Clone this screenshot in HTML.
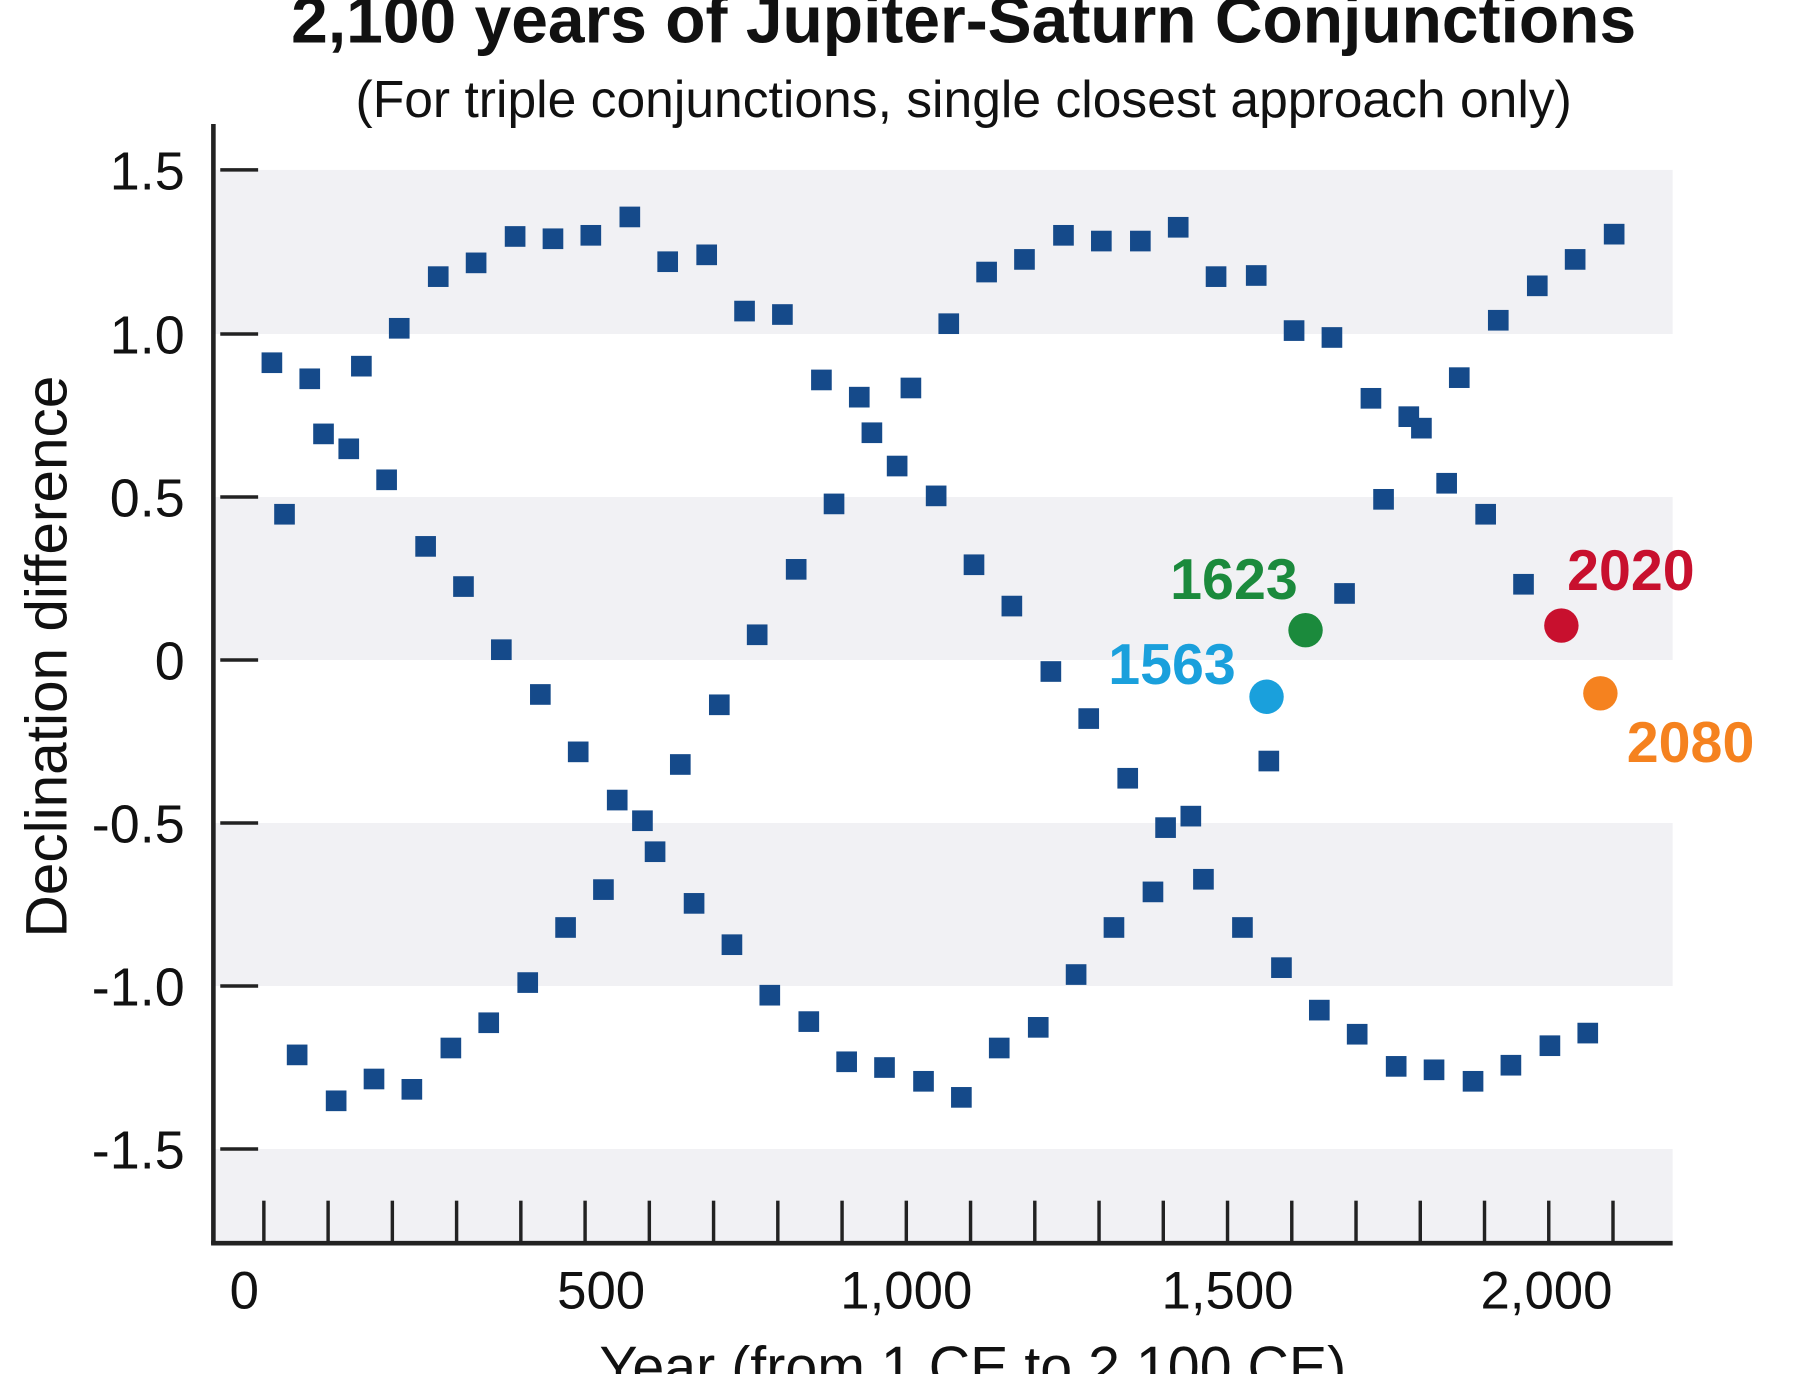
<!DOCTYPE html>
<html><head><meta charset="utf-8"><style>html,body{margin:0;padding:0;background:#fff}svg{display:block}</style></head>
<body>
<svg width="1800" height="1374" viewBox="0 0 1569 1197" preserveAspectRatio="none" xmlns="http://www.w3.org/2000/svg" font-family="Liberation Sans, Arial, sans-serif">
<rect x="0" y="0" width="1569" height="1197" fill="#fff"/>
<g fill="#f1f1f4">
<rect x="185" y="148" width="1273" height="143"/>
<rect x="185" y="433" width="1273" height="142"/>
<rect x="185" y="717" width="1273" height="142"/>
<rect x="185" y="1001" width="1273" height="82"/>
</g>
<text x="840" y="37" font-size="57.5" font-weight="bold" text-anchor="middle" fill="#111">2,100 years of Jupiter-Saturn Conjunctions</text>
<text x="840" y="102" font-size="45" text-anchor="middle" fill="#111">(For triple conjunctions, single closest approach only)</text>
<g stroke="#222" stroke-width="3">
<line x1="192" y1="148" x2="225" y2="148"/><line x1="192" y1="291" x2="225" y2="291"/><line x1="192" y1="433" x2="225" y2="433"/><line x1="192" y1="575" x2="225" y2="575"/><line x1="192" y1="717" x2="225" y2="717"/><line x1="192" y1="859" x2="225" y2="859"/><line x1="192" y1="1001" x2="225" y2="1001"/>
</g>
<g stroke="#222" stroke-width="3" id="xt"></g>
<line x1="186" y1="108" x2="186" y2="1084" stroke="#222" stroke-width="4"/>
<line x1="184" y1="1083" x2="1458" y2="1083" stroke="#222" stroke-width="4"/>
<g font-size="47" fill="#111" text-anchor="end">
<text x="161" y="165">1.5</text><text x="161" y="308">1.0</text><text x="161" y="450">0.5</text><text x="161" y="592">0</text><text x="161" y="734">-0.5</text><text x="161" y="876">-1.0</text><text x="161" y="1018">-1.5</text>
</g>
<g font-size="46" fill="#111" text-anchor="middle">
<text x="213" y="1140">0</text><text x="524" y="1140">500</text><text x="790" y="1140">1,000</text><text x="1070" y="1140">1,500</text><text x="1348" y="1140">2,000</text>
<text x="848" y="1208" font-size="50">Year (from 1 CE to 2,100 CE)</text>
</g>
<text transform="translate(58,572) rotate(-90)" font-size="51" fill="#111" text-anchor="middle">Declination difference</text>
<g id="pts" fill="#154a8a"></g>
<circle cx="1104" cy="607" r="15" fill="#1aa0dc"/>
<circle cx="1138" cy="549" r="15" fill="#1b8a3c"/>
<circle cx="1361" cy="545" r="15" fill="#c8102e"/>
<circle cx="1395" cy="604" r="15" fill="#f5821f"/>
<g font-size="50" font-weight="bold">
<text x="1020" y="522" fill="#1b8a3c">1623</text>
<text x="966" y="596" fill="#1aa0dc">1563</text>
<text x="1366" y="514" fill="#c8102e">2020</text>
<text x="1418" y="664" fill="#f5821f">2080</text>
</g>
<script>
var ns="http://www.w3.org/2000/svg";
var xt=document.getElementById("xt");
for(var i=0;i<=21;i++){var x=230+i*56;var l=document.createElementNS(ns,"line");l.setAttribute("x1",x);l.setAttribute("x2",x);l.setAttribute("y1",1046);l.setAttribute("y2",1083);xt.appendChild(l);}
var p=[[237,316],[248,448],[259,919],[270,330],[282,378],[293,959],[304,391],[315,319],[326,940],[337,418],[348,286],[359,949],[371,476],[382,241],[393,913],[404,511],[415,229],[426,891],[437,566],[449,206],[460,856],[471,605],[482,208],[493,808],[504,655],[515,205],[526,775],[538,697],[549,189],[560,715],[571,742],[582,228],[593,666],[605,787],[616,222],[627,614],[638,823],[649,271],[660,553],[671,867],[682,274],[694,496],[705,890],[716,331],[727,439],[738,925],[749,346],[760,377],[771,930],[782,406],[794,338],[805,942],[816,432],[827,282],[838,956],[849,492],[860,237],[871,913],[882,528],[893,226],[905,895],[916,585],[927,205],[938,849],[949,626],[960,210],[971,808],[983,678],[994,210],[1005,777],[1016,721],[1027,198],[1038,711],[1049,766],[1060,241],[1083,808],[1095,240],[1106,663],[1117,843],[1128,288],[1150,880],[1161,294],[1172,517],[1183,901],[1195,347],[1206,435],[1217,929],[1228,363],[1239,373],[1250,932],[1261,421],[1272,329],[1284,942],[1295,448],[1306,279],[1317,928],[1328,509],[1340,249],[1351,911],[1373,226],[1384,900],[1407,204]];
var g=document.getElementById("pts");
p.forEach(function(q){var r=document.createElementNS(ns,"rect");r.setAttribute("x",q[0]-9);r.setAttribute("y",q[1]-9);r.setAttribute("width",18);r.setAttribute("height",18);g.appendChild(r);});
</script>
</svg>
</body></html>
